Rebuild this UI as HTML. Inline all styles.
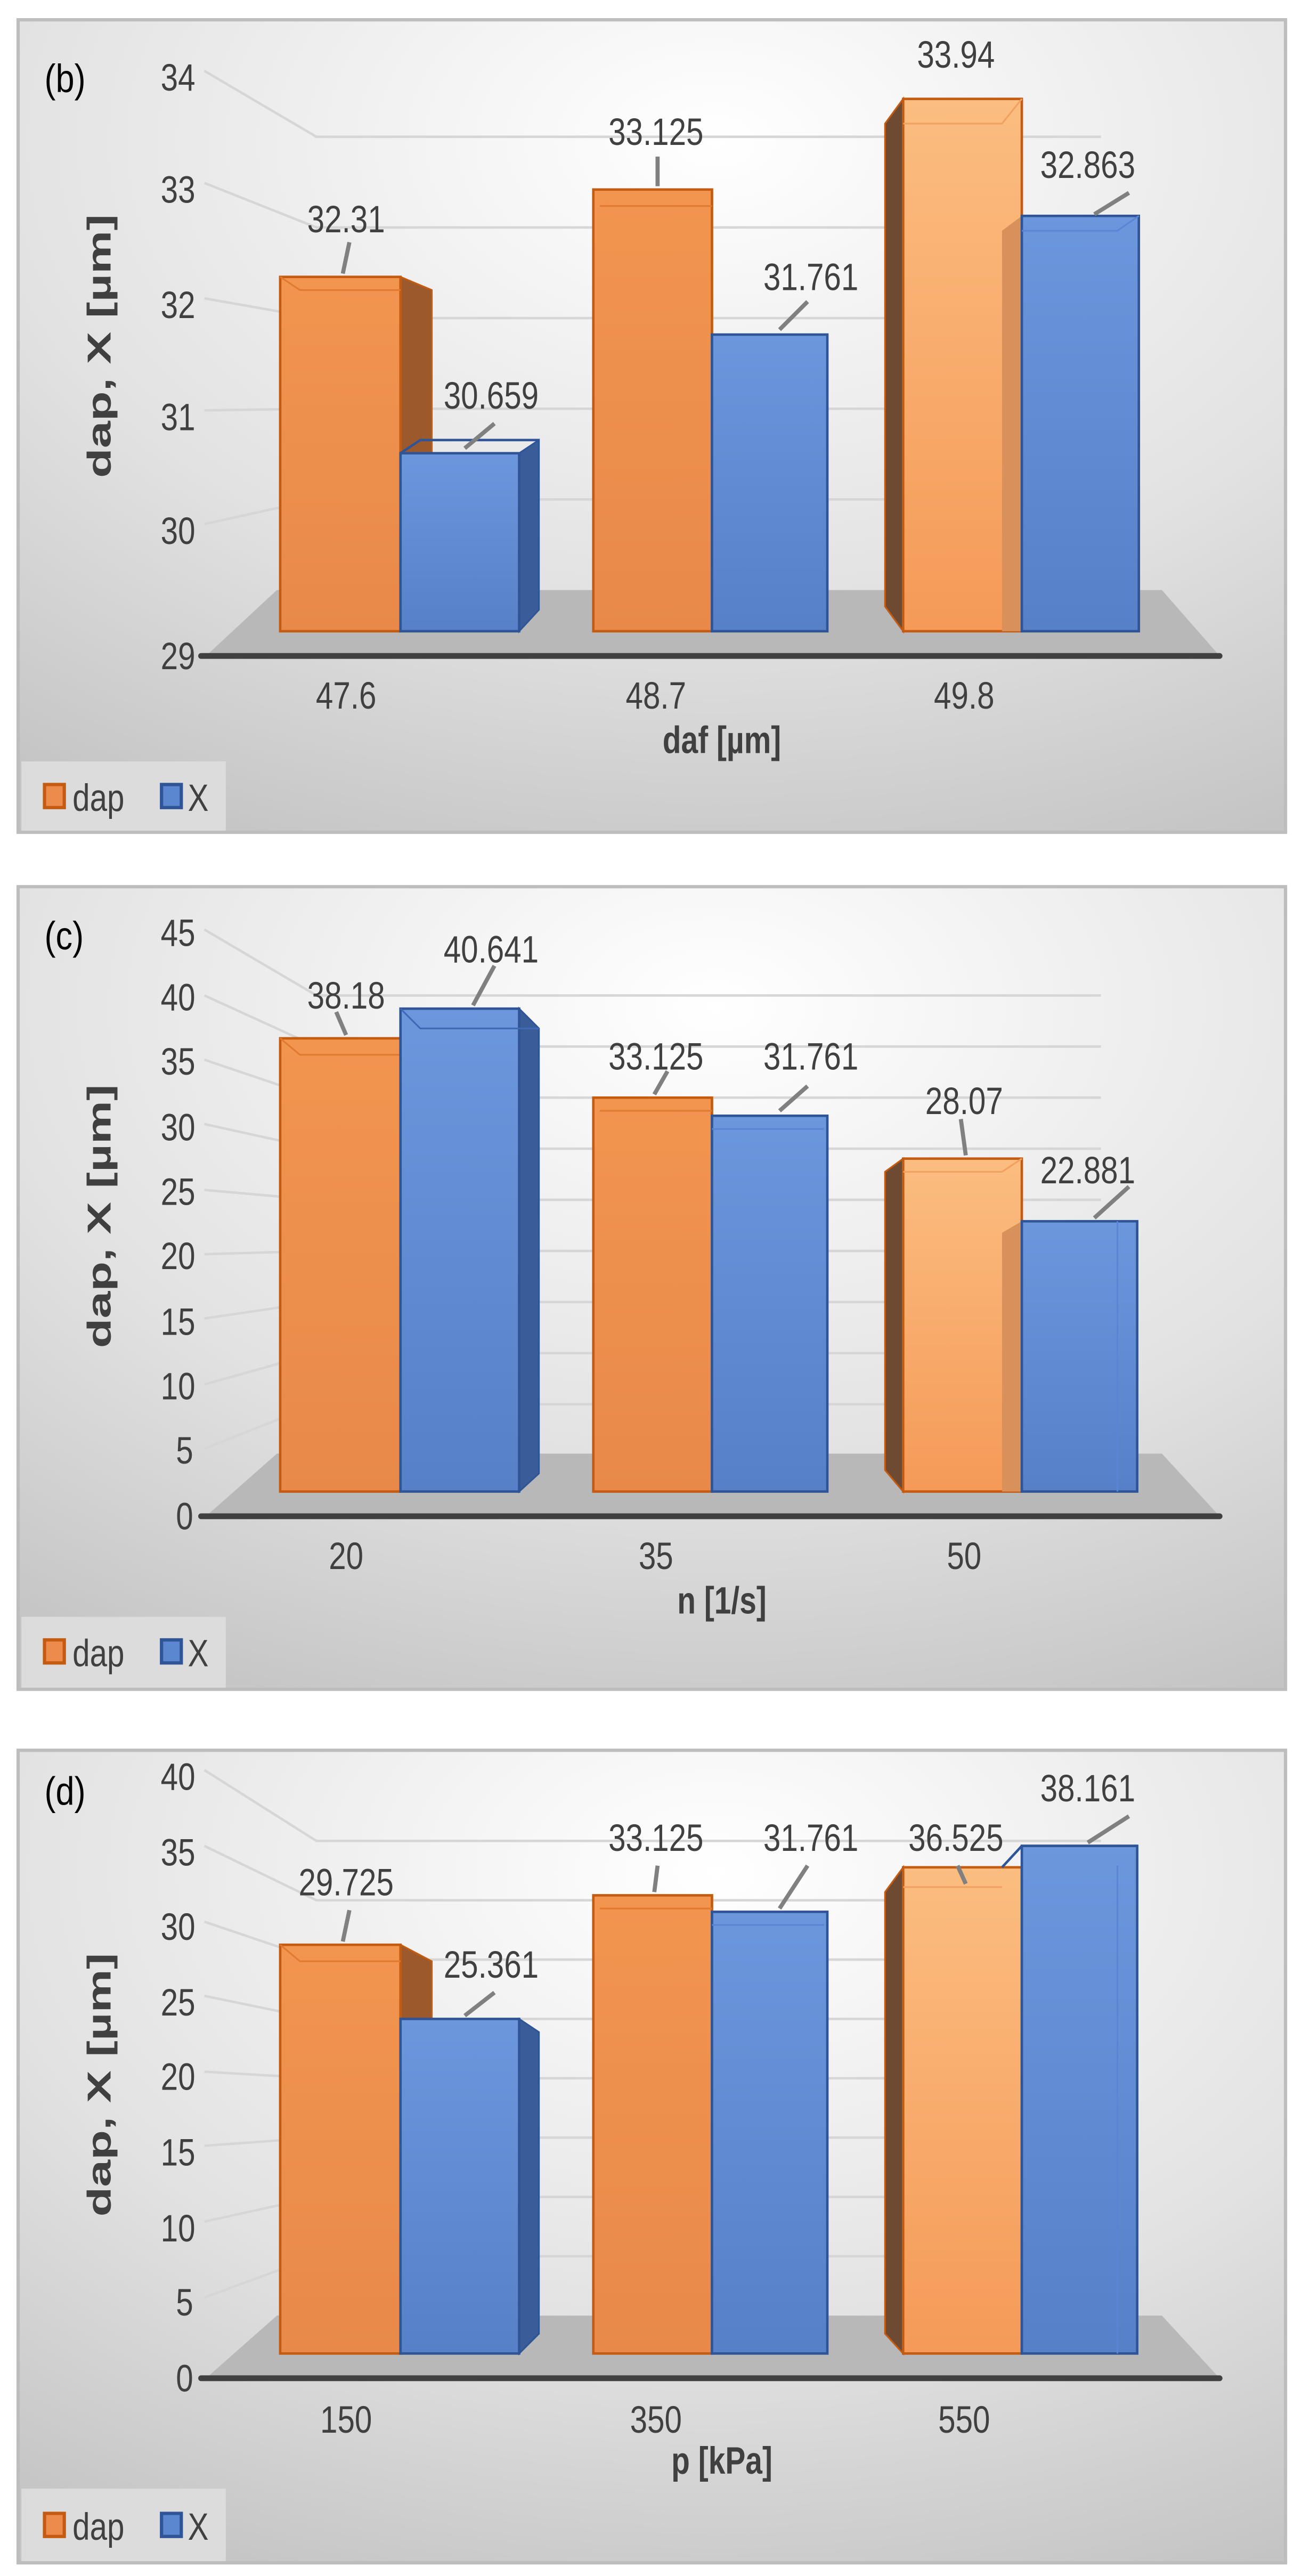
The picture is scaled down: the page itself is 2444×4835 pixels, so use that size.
<!DOCTYPE html>
<html><head><meta charset="utf-8"><style>
html,body{margin:0;padding:0;background:#fff;}
svg{display:block;}
text{font-family:"Liberation Sans",sans-serif;fill:#404040;}
.v{font-size:23px;text-anchor:middle;}
.t{font-size:23px;font-weight:bold;text-anchor:middle;}
</style></head><body>
<svg width="2444" height="4835" viewBox="0 0 790 1563" preserveAspectRatio="none" xmlns="http://www.w3.org/2000/svg">
<defs>
<radialGradient id="bg" cx="0.55" cy="0.15" r="0.95">
<stop offset="0" stop-color="#ffffff"/><stop offset="0.6" stop-color="#e2e2e2"/><stop offset="1" stop-color="#c4c4c4"/>
</radialGradient>
<linearGradient id="og" x1="0" y1="0" x2="0" y2="1"><stop offset="0" stop-color="#f2954f"/><stop offset="1" stop-color="#e8894a"/></linearGradient>
<linearGradient id="og3" x1="0" y1="0" x2="0" y2="1"><stop offset="0" stop-color="#fbbd80"/><stop offset="1" stop-color="#f59a58"/></linearGradient>
<linearGradient id="bgb" x1="0" y1="0" x2="0" y2="1"><stop offset="0" stop-color="#6c97dd"/><stop offset="1" stop-color="#5680c8"/></linearGradient>
</defs>

<!-- ============ CHART B ============ -->
<g>
<rect x="11" y="12" width="769" height="493" fill="url(#bg)" stroke="#bdbdbd" stroke-width="2"/>
<g stroke="#d6d6d6" stroke-width="1.5" fill="none">
<polyline points="124,43 192,83 668,83"/>
<polyline points="124,111 192,138 668,138"/>
<polyline points="124,181 192,193 668,193"/>
<polyline points="124,249 192,248 668,248"/>
<polyline points="124,318 192,303 668,303"/>
</g>
<polygon points="168,358 705,358 740,398 125,398" fill="#b8b8b8"/>
<line x1="122" y1="398" x2="740" y2="398" stroke="#404040" stroke-width="3.5" stroke-linecap="round"/>
<text transform="translate(27,56) scale(0.85,1)" font-size="24" style="fill:#000">(b)</text>
<text class="v" transform="translate(108,55) scale(0.82,1)">34</text>
<text class="v" transform="translate(108,123) scale(0.82,1)">33</text>
<text class="v" transform="translate(108,193) scale(0.82,1)">32</text>
<text class="v" transform="translate(108,261) scale(0.82,1)">31</text>
<text class="v" transform="translate(108,330) scale(0.82,1)">30</text>
<text class="v" transform="translate(108,406) scale(0.82,1)">29</text>
<text transform="translate(67,210) rotate(-90)" font-size="20" font-weight="bold" text-anchor="middle" textLength="160" lengthAdjust="spacingAndGlyphs">dap, X [µm]</text>
<polygon points="243,168 262,176 262,370 243,383" fill="#9c5a2c" stroke="#c55a11" stroke-width="1"/>
<rect x="170" y="168" width="73" height="215" fill="url(#og)" stroke="#c55a11" stroke-width="1.5"/>
<polyline points="170,168 182,176 243,176 M182,176 182,383" fill="none" stroke="#e07a30" stroke-width="1"/>
<polygon points="315,275 327,267 327,370 315,383" fill="#3a5d9a" stroke="#2f5597" stroke-width="1"/>
<rect x="243" y="275" width="72" height="108" fill="url(#bgb)" stroke="#2f5597" stroke-width="1.5"/>
<polyline points="243,275 255,267 327,267" fill="none" stroke="#2f5597" stroke-width="1.5"/>
<rect x="360" y="115" width="72" height="268" fill="url(#og)" stroke="#c55a11" stroke-width="1.5"/>
<line x1="364" y1="125" x2="432" y2="125" stroke="#e07a30" stroke-width="1"/>
<rect x="432" y="203" width="70" height="180" fill="url(#bgb)" stroke="#2f5597" stroke-width="1.5"/>
<polygon points="537,75 548,60 548,383 537,368" fill="#6e4a33" stroke="#c55a11" stroke-width="1"/>
<rect x="548" y="60" width="72" height="323" fill="url(#og3)" stroke="#c55a11" stroke-width="1.5"/>
<polyline points="548,75 608,75 620,60 M608,75 608,383" fill="none" stroke="#f0a060" stroke-width="1"/>
<polygon points="608,140 620,131 620,383 608,383" fill="#d8915a"/>
<rect x="620" y="131" width="71" height="252" fill="url(#bgb)" stroke="#2f5597" stroke-width="1.5"/>
<polyline points="620,140 678,140 691,131 M678,140 678,383" fill="none" stroke="#5a85d5" stroke-width="1"/>
<g stroke="#808080" stroke-width="2.5">
<line x1="212" y1="147" x2="208" y2="166"/><line x1="300" y1="257" x2="282" y2="272"/>
<line x1="399" y1="95" x2="399" y2="113"/><line x1="490" y1="183" x2="473" y2="200"/>
<line x1="685" y1="117" x2="664" y2="130"/>
</g>
<text class="v" transform="translate(210,141) scale(0.82,1)">32.31</text>
<text class="v" transform="translate(298,248) scale(0.82,1)">30.659</text>
<text class="v" transform="translate(398,88) scale(0.82,1)">33.125</text>
<text class="v" transform="translate(492,176) scale(0.82,1)">31.761</text>
<text class="v" transform="translate(580,41) scale(0.82,1)">33.94</text>
<text class="v" transform="translate(660,108) scale(0.82,1)">32.863</text>
<text class="v" transform="translate(210,430) scale(0.82,1)">47.6</text>
<text class="v" transform="translate(398,430) scale(0.82,1)">48.7</text>
<text class="v" transform="translate(585,430) scale(0.82,1)">49.8</text>
<text class="t" transform="translate(438,457) scale(0.8,1)">daf [µm]</text>
<rect x="13" y="462" width="124" height="42" fill="#dcdcdc"/>
<rect x="27" y="476" width="12" height="14" fill="#ed8b4c" stroke="#c55a11" stroke-width="2"/>
<text transform="translate(44,492) scale(0.82,1)" font-size="23">dap</text>
<rect x="98" y="476" width="12" height="14" fill="#5b86d0" stroke="#2f5597" stroke-width="2"/>
<text transform="translate(114,492) scale(0.82,1)" font-size="23">X</text>
</g>

<!-- ============ CHART C ============ -->
<g transform="translate(0,526)">
<rect x="11" y="12" width="769" height="487" fill="url(#bg)" stroke="#bdbdbd" stroke-width="2"/>
<g stroke="#d6d6d6" stroke-width="1.5" fill="none">
<polyline points="124,38 192,78 668,78"/>
<polyline points="124,78 192,109 668,109"/>
<polyline points="124,117 192,140 668,140"/>
<polyline points="124,156 192,171 668,171"/>
<polyline points="124,196 192,202 668,202"/>
<polyline points="124,235 192,233 668,233"/>
<polyline points="124,274 192,264 668,264"/>
<polyline points="124,314 192,295 668,295"/>
<polyline points="124,353 192,326 668,326"/>
</g>
<polygon points="168,356 705,356 740,394 125,394" fill="#b8b8b8"/>
<line x1="122" y1="394" x2="740" y2="394" stroke="#404040" stroke-width="3.5" stroke-linecap="round"/>
<text transform="translate(27,50) scale(0.85,1)" font-size="24" style="fill:#000">(c)</text>
<text class="v" transform="translate(108,48) scale(0.82,1)">45</text>
<text class="v" transform="translate(108,87) scale(0.82,1)">40</text>
<text class="v" transform="translate(108,126) scale(0.82,1)">35</text>
<text class="v" transform="translate(108,166) scale(0.82,1)">30</text>
<text class="v" transform="translate(108,205) scale(0.82,1)">25</text>
<text class="v" transform="translate(108,244) scale(0.82,1)">20</text>
<text class="v" transform="translate(108,284) scale(0.82,1)">15</text>
<text class="v" transform="translate(108,323) scale(0.82,1)">10</text>
<text class="v" transform="translate(112,362) scale(0.82,1)">5</text>
<text class="v" transform="translate(112,402) scale(0.82,1)">0</text>
<text transform="translate(67,212) rotate(-90)" font-size="20" font-weight="bold" text-anchor="middle" textLength="160" lengthAdjust="spacingAndGlyphs">dap, X [µm]</text>
<rect x="170" y="104" width="73" height="275" fill="url(#og)" stroke="#c55a11" stroke-width="1.5"/>
<polyline points="170,104 182,114 243,114 M182,114 182,379" fill="none" stroke="#e07a30" stroke-width="1"/>
<polygon points="315,86 327,98 327,368 315,379" fill="#3a5d9a" stroke="#2f5597" stroke-width="1"/>
<rect x="243" y="86" width="72" height="293" fill="url(#bgb)" stroke="#2f5597" stroke-width="1.5"/>
<polyline points="243,86 255,98 327,98 M255,98 255,379" fill="none" stroke="#3f69b5" stroke-width="1"/>
<rect x="360" y="140" width="72" height="239" fill="url(#og)" stroke="#c55a11" stroke-width="1.5"/>
<line x1="364" y1="148" x2="432" y2="148" stroke="#e07a30" stroke-width="1"/>
<rect x="432" y="151" width="70" height="228" fill="url(#bgb)" stroke="#2f5597" stroke-width="1.5"/>
<line x1="432" y1="159" x2="500" y2="159" stroke="#5a85d5" stroke-width="1"/>
<polygon points="537,185 548,177 548,379 537,366" fill="#6e4a33" stroke="#c55a11" stroke-width="1"/>
<rect x="548" y="177" width="72" height="202" fill="url(#og3)" stroke="#c55a11" stroke-width="1.5"/>
<polyline points="548,185 608,185 620,177 M608,185 608,379" fill="none" stroke="#f0a060" stroke-width="1"/>
<polygon points="608,222 620,215 620,379 608,379" fill="#d8915a"/>
<rect x="620" y="215" width="70" height="164" fill="url(#bgb)" stroke="#2f5597" stroke-width="1.5"/>
<line x1="678" y1="215" x2="678" y2="379" stroke="#5a85d5" stroke-width="1"/>
<g stroke="#808080" stroke-width="2.5">
<line x1="204" y1="88" x2="210" y2="102"/><line x1="300" y1="60" x2="287" y2="84"/>
<line x1="405" y1="124" x2="397" y2="138"/><line x1="490" y1="133" x2="473" y2="148"/>
<line x1="583" y1="153" x2="586" y2="175"/><line x1="685" y1="194" x2="664" y2="213"/>
</g>
<text class="v" transform="translate(210,86) scale(0.82,1)">38.18</text>
<text class="v" transform="translate(298,58) scale(0.82,1)">40.641</text>
<text class="v" transform="translate(398,123) scale(0.82,1)">33.125</text>
<text class="v" transform="translate(492,123) scale(0.82,1)">31.761</text>
<text class="v" transform="translate(585,150) scale(0.82,1)">28.07</text>
<text class="v" transform="translate(660,192) scale(0.82,1)">22.881</text>
<text class="v" transform="translate(210,426) scale(0.82,1)">20</text>
<text class="v" transform="translate(398,426) scale(0.82,1)">35</text>
<text class="v" transform="translate(585,426) scale(0.82,1)">50</text>
<text class="t" transform="translate(438,453) scale(0.8,1)">n [1/s]</text>
<rect x="13" y="455" width="124" height="43" fill="#dcdcdc"/>
<rect x="27" y="469" width="12" height="14" fill="#ed8b4c" stroke="#c55a11" stroke-width="2"/>
<text transform="translate(44,485) scale(0.82,1)" font-size="23">dap</text>
<rect x="98" y="469" width="12" height="14" fill="#5b86d0" stroke="#2f5597" stroke-width="2"/>
<text transform="translate(114,485) scale(0.82,1)" font-size="23">X</text>
</g>

<!-- ============ CHART D ============ -->
<g transform="translate(0,1050)">
<rect x="11" y="12" width="769" height="493" fill="url(#bg)" stroke="#bdbdbd" stroke-width="2"/>
<g stroke="#d6d6d6" stroke-width="1.5" fill="none">
<polyline points="124,24 192,67 668,67"/>
<polyline points="124,70 192,103 668,103"/>
<polyline points="124,116 192,139 668,139"/>
<polyline points="124,161 192,175 668,175"/>
<polyline points="124,207 192,211 668,211"/>
<polyline points="124,252 192,247 668,247"/>
<polyline points="124,298 192,283 668,283"/>
<polyline points="124,344 192,319 668,319"/>
</g>
<polygon points="168,355 705,355 740,393 125,393" fill="#b8b8b8"/>
<line x1="122" y1="393" x2="740" y2="393" stroke="#404040" stroke-width="3.5" stroke-linecap="round"/>
<text transform="translate(27,45) scale(0.85,1)" font-size="24" style="fill:#000">(d)</text>
<text class="v" transform="translate(108,36) scale(0.82,1)">40</text>
<text class="v" transform="translate(108,82) scale(0.82,1)">35</text>
<text class="v" transform="translate(108,127) scale(0.82,1)">30</text>
<text class="v" transform="translate(108,173) scale(0.82,1)">25</text>
<text class="v" transform="translate(108,218) scale(0.82,1)">20</text>
<text class="v" transform="translate(108,264) scale(0.82,1)">15</text>
<text class="v" transform="translate(108,310) scale(0.82,1)">10</text>
<text class="v" transform="translate(112,355) scale(0.82,1)">5</text>
<text class="v" transform="translate(112,401) scale(0.82,1)">0</text>
<text transform="translate(67,215) rotate(-90)" font-size="20" font-weight="bold" text-anchor="middle" textLength="160" lengthAdjust="spacingAndGlyphs">dap, X [µm]</text>
<polygon points="243,130 262,140 262,366 243,378" fill="#9c5a2c" stroke="#c55a11" stroke-width="1"/>
<rect x="170" y="130" width="73" height="248" fill="url(#og)" stroke="#c55a11" stroke-width="1.5"/>
<polyline points="170,130 182,140 243,140 M182,140 182,378" fill="none" stroke="#e07a30" stroke-width="1"/>
<polygon points="315,175 327,183 327,366 315,378" fill="#3a5d9a" stroke="#2f5597" stroke-width="1"/>
<rect x="243" y="175" width="72" height="203" fill="url(#bgb)" stroke="#2f5597" stroke-width="1.5"/>
<rect x="360" y="100" width="72" height="278" fill="url(#og)" stroke="#c55a11" stroke-width="1.5"/>
<line x1="364" y1="108" x2="432" y2="108" stroke="#e07a30" stroke-width="1"/>
<rect x="432" y="110" width="70" height="268" fill="url(#bgb)" stroke="#2f5597" stroke-width="1.5"/>
<line x1="432" y1="118" x2="500" y2="118" stroke="#5a85d5" stroke-width="1"/>
<polygon points="537,98 548,83 548,378 537,366" fill="#6e4a33" stroke="#c55a11" stroke-width="1"/>
<rect x="548" y="83" width="72" height="295" fill="url(#og3)" stroke="#c55a11" stroke-width="1.5"/>
<polyline points="548,95 608,95 M608,95 608,378" fill="none" stroke="#f0a060" stroke-width="1"/>
<rect x="620" y="70" width="70" height="308" fill="url(#bgb)" stroke="#2f5597" stroke-width="1.5"/>
<polyline points="608,83 620,70 690,70" fill="none" stroke="#2f5597" stroke-width="1.5"/>
<line x1="678" y1="82" x2="678" y2="378" stroke="#5a85d5" stroke-width="1"/>
<g stroke="#808080" stroke-width="2.5">
<line x1="212" y1="109" x2="208" y2="128"/><line x1="300" y1="159" x2="282" y2="173"/>
<line x1="399" y1="82" x2="397" y2="98"/><line x1="490" y1="82" x2="473" y2="108"/>
<line x1="581" y1="82" x2="586" y2="93"/><line x1="685" y1="52" x2="660" y2="68"/>
</g>
<text class="v" transform="translate(210,100) scale(0.82,1)">29.725</text>
<text class="v" transform="translate(298,150) scale(0.82,1)">25.361</text>
<text class="v" transform="translate(398,73) scale(0.82,1)">33.125</text>
<text class="v" transform="translate(492,73) scale(0.82,1)">31.761</text>
<text class="v" transform="translate(580,73) scale(0.82,1)">36.525</text>
<text class="v" transform="translate(660,43) scale(0.82,1)">38.161</text>
<text class="v" transform="translate(210,426) scale(0.82,1)">150</text>
<text class="v" transform="translate(398,426) scale(0.82,1)">350</text>
<text class="v" transform="translate(585,426) scale(0.82,1)">550</text>
<text class="t" transform="translate(438,451) scale(0.8,1)">p [kPa]</text>
<rect x="13" y="460" width="124" height="44" fill="#dcdcdc"/>
<rect x="27" y="475" width="12" height="14" fill="#ed8b4c" stroke="#c55a11" stroke-width="2"/>
<text transform="translate(44,491) scale(0.82,1)" font-size="23">dap</text>
<rect x="98" y="475" width="12" height="14" fill="#5b86d0" stroke="#2f5597" stroke-width="2"/>
<text transform="translate(114,491) scale(0.82,1)" font-size="23">X</text>
</g>
</svg>
</body></html>
